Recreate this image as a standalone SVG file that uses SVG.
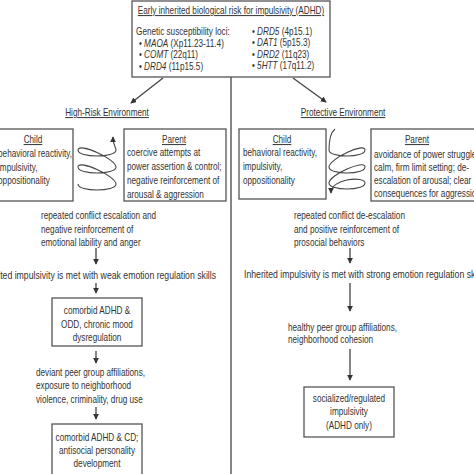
<svg xmlns="http://www.w3.org/2000/svg" width="474" height="474" viewBox="0 0 474 474">
<defs>
<style>
text{font-family:"Liberation Sans",Arial,sans-serif;font-size:10px;fill:#333}
.c{text-anchor:middle}
.e{text-anchor:end}
.u{text-decoration:underline}
.i{font-style:italic}
.box{fill:#fff;stroke:#555;stroke-width:1.3}
.ln{fill:none;stroke:#444;stroke-width:1.3}
.coil{fill:none;stroke:#444;stroke-width:1.1}
</style>
<marker id="ah" viewBox="0 0 8 8" refX="7" refY="4" markerWidth="6" markerHeight="6" orient="auto" markerUnits="userSpaceOnUse">
<path d="M0,0 L8,4 L0,8 z" fill="#333"/>
</marker>
</defs>
<rect width="474" height="474" fill="#fff"/>

<g id="connectors">
<line class="ln" x1="231" y1="77" x2="231" y2="474"/>
<line class="ln" x1="163" y1="78" x2="131" y2="103" marker-end="url(#ah)"/>
<line class="ln" x1="293" y1="78" x2="326" y2="102" marker-end="url(#ah)"/>
<line class="ln" x1="96" y1="248" x2="96" y2="264" marker-end="url(#ah)"/>
<line class="ln" x1="96" y1="283" x2="96" y2="293" marker-end="url(#ah)"/>
<line class="ln" x1="96" y1="351" x2="96" y2="363" marker-end="url(#ah)"/>
<line class="ln" x1="96" y1="407" x2="96" y2="419" marker-end="url(#ah)"/>
<line class="ln" x1="350" y1="248" x2="350" y2="263" marker-end="url(#ah)"/>
<line class="ln" x1="350" y1="283" x2="350" y2="311" marker-end="url(#ah)"/>
<line class="ln" x1="350" y1="349" x2="350" y2="380" marker-end="url(#ah)"/>
<path class="coil" d="M78 184 C78 192,116 192,116 184 C116 176,78 159,78 167 C78 175,116 175,116 167 C116 159,78 142,78 150 C78 158,116 158,116 150 C116 147,113 146,113 137" marker-end="url(#ah)"/>
<path class="coil" d="M335 129 C330 133,329 142,329 150 C329 158,365 158,365 150 C365 142,329 159,329 167 C329 175,365 175,365 167 C365 159,329 175,329 183 C329 191,365 191,365 183 C365 176,331 178,331 193" marker-end="url(#ah)"/>
</g>

<g id="top">
<rect class="box" x="132" y="1" width="198" height="76"/>
<g transform="scale(0.82 1)">
<text class="c u" x="281.7" y="14">Early inherited biological risk for impulsivity (ADHD)</text>
<text x="165.9" y="35">Genetic susceptibility loci:</text>
<text x="169.5" y="47">•  <tspan class="i">MAOA</tspan> (Xp11.23-11.4)</text>
<text x="169.5" y="58">•  <tspan class="i">COMT</tspan> (22q11)</text>
<text x="169.5" y="70">•  <tspan class="i">DRD4</tspan> (11p15.5)</text>
<text x="307.3" y="35">•  <tspan class="i">DRD5</tspan> (4p15.1)</text>
<text x="307.3" y="46">•  <tspan class="i">DAT1</tspan> (5p15.3)</text>
<text x="307.3" y="58">•  <tspan class="i">DRD2</tspan> (11q23)</text>
<text x="307.3" y="69">•  <tspan class="i">5HTT</tspan> (17q11.2)</text>
</g>
</g>

<g id="high-risk-label" transform="scale(0.82 1)"><text class="c u" x="130.5" y="116">High-Risk Environment</text></g>
<g id="protective-label" transform="scale(0.82 1)"><text class="c u" x="418.3" y="116">Protective Environment</text></g>

<g id="child-left">
<rect class="box" x="-2" y="129" width="75" height="72"/>
<g transform="scale(0.82 1)">
<text class="c u" x="40.2" y="143">Child</text>
<text x="-2.4" y="157">behavioral reactivity,</text>
<text x="-2.4" y="171">impulsivity,</text>
<text x="-2.4" y="184">oppositionality</text>
</g>
</g>

<g id="parent-left">
<rect class="box" x="124" y="129" width="102" height="72"/>
<g transform="scale(0.82 1)">
<text class="c u" x="212.2" y="143">Parent</text>
<text x="154.9" y="156">coercive attempts at</text>
<text x="154.9" y="170">power assertion &amp; control;</text>
<text x="154.9" y="184">negative reinforcement of</text>
<text x="154.9" y="198">arousal &amp;  aggression</text>
</g>
</g>

<g id="child-right">
<rect class="box" x="239" y="129" width="87" height="70"/>
<g transform="scale(0.82 1)">
<text class="c u" x="343.9" y="143">Child</text>
<text x="296.3" y="156">behavioral reactivity,</text>
<text x="296.3" y="170">impulsivity,</text>
<text x="296.3" y="184">oppositionality</text>
</g>
</g>

<g id="parent-right">
<rect class="box" x="371" y="129" width="106" height="72"/>
<g transform="scale(0.82 1)">
<text class="c u" x="508.5" y="143">Parent</text>
<text x="456.1" y="158">avoidance of power struggles;</text>
<text x="456.1" y="171">calm, firm limit setting; de-</text>
<text x="456.1" y="184">escalation of arousal; clear</text>
<text x="456.1" y="197">consequences for aggression</text>
</g>
</g>

<g id="escalation" transform="scale(0.82 1)">
<text x="50" y="219">repeated conflict escalation and</text>
<text x="50" y="233">negative reinforcement of</text>
<text x="50" y="246">emotional lability and anger</text>
</g>

<g id="weak-regulation" transform="scale(0.87 1)"><text class="e" x="248.3" y="279">Inherited impulsivity is met with weak emotion regulation skills</text></g>

<g id="odd-box">
<rect class="box" x="52" y="298" width="90" height="48"/>
<g transform="scale(0.82 1)">
<text class="c" x="118.3" y="314">comorbid ADHD &amp;</text>
<text class="c" x="118.3" y="328">ODD, chronic mood</text>
<text class="c" x="118.3" y="341">dysregulation</text>
</g>
</g>

<g id="deviant" transform="scale(0.82 1)">
<text x="43.9" y="376">deviant peer group affiliations,</text>
<text x="43.9" y="389">exposure to neighborhood</text>
<text x="43.9" y="403">violence, criminality, drug use</text>
</g>

<g id="cd-box">
<rect class="box" x="52" y="424" width="90" height="54"/>
<g transform="scale(0.82 1)">
<text class="c" x="118.3" y="441">comorbid ADHD &amp; CD;</text>
<text class="c" x="118.3" y="454">antisocial personality</text>
<text class="c" x="118.3" y="467">development</text>
</g>
</g>

<g id="deescalation" transform="scale(0.82 1)">
<text x="358.5" y="219">repeated conflict de-escalation</text>
<text x="358.5" y="233">and positive reinforcement of</text>
<text x="358.5" y="246">prosocial behaviors</text>
</g>

<g id="strong-regulation" transform="scale(0.87 1)"><text x="280.5" y="278">Inherited impulsivity is met with strong emotion regulation skills</text></g>

<g id="healthy" transform="scale(0.82 1)">
<text x="351.2" y="331">healthy peer group affiliations,</text>
<text x="351.2" y="343">neighborhood cohesion</text>
</g>

<g id="regulated-box">
<rect class="box" x="304" y="387" width="90" height="50"/>
<g transform="scale(0.82 1)">
<text class="c" x="425.6" y="402">socialized/regulated</text>
<text class="c" x="425.6" y="415">impulsivity</text>
<text class="c" x="425.6" y="429">(ADHD only)</text>
</g>
</g>
</svg>
